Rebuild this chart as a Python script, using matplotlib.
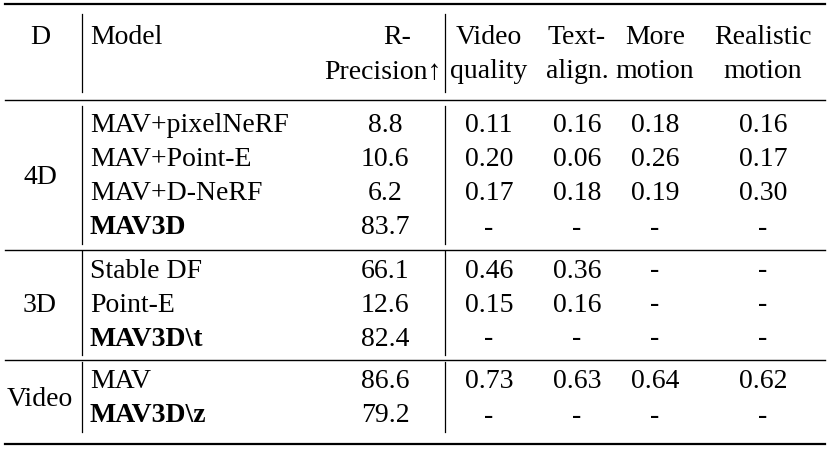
import matplotlib
matplotlib.use("Agg")
import matplotlib.pyplot as plt

plt.rcParams['font.family'] = ['Liberation Serif', 'DejaVu Serif']

groups = ["4D", "3D", "Video"]
models = [["MAV+pixelNeRF", "MAV+Point-E", "MAV+D-NeRF", "MAV3D"],
          ["Stable DF", "Point-E", "MAV3D\\t"],
          ["MAV", "MAV3D\\z"]]
bold_models = {"MAV3D", "MAV3D\\t", "MAV3D\\z"}
rprec = [["8.8", "10.6", "6.2", "83.7"],
         ["66.1", "12.6", "82.4"],
         ["86.6", "79.2"]]
scores = [[["0.11", "0.16", "0.18", "0.16"],
           ["0.20", "0.06", "0.26", "0.17"],
           ["0.17", "0.18", "0.19", "0.30"],
           ["-", "-", "-", "-"]],
          [["0.46", "0.36", "-", "-"],
           ["0.15", "0.16", "-", "-"],
           ["-", "-", "-", "-"]],
          [["0.73", "0.63", "0.64", "0.62"],
           ["-", "-", "-", "-"]]]
head_top = ["R-", "Video", "Text-", "More", "Realistic"]
head_bot = ["Precision\u2191", "quality", "align.", "motion", "motion"]

fig = plt.figure(figsize=(8.29, 4.58), dpi=100)
ax = fig.add_axes([0, 0, 1, 1])
ax.set_xlim(0, 829)
ax.set_ylim(458, 0)
ax.axis('off')

fs = 20
score_x = [489, 577, 655, 763]
rp_x = 385

# header
ax.text(40, 38, "D", ha='center', va='center', fontsize=fs)
ax.text(90, 38, "Model", ha='left', va='center', fontsize=fs)
ax.text(rp_x + 12, 38, head_top[0], ha='center', va='center', fontsize=fs)
ax.text(rp_x - 2, 72, head_bot[0], ha='center', va='center', fontsize=fs)
for x, t, b in zip(score_x, head_top[1:], head_bot[1:]):
    ax.text(x, 38, t, ha='center', va='center', fontsize=fs)
    ax.text(x, 72, b, ha='center', va='center', fontsize=fs)

ax.plot([5, 825], [4, 4], color='black', lw=1.6)
ax.plot([5, 825], [100, 100], color='black', lw=1.0)
ax.plot([82, 82], [14, 92], color='black', lw=0.9)
ax.plot([445, 445], [14, 92], color='black', lw=0.9)

section_start = [126, 271, 382]
step = 34
rule_after = [250, 360, 444]
for g, name in enumerate(groups):
    y0 = section_start[g]
    n = len(models[g])
    ys = [y0 + i * step for i in range(n)]
    ax.text(40, (ys[0] + ys[-1]) / 2, name, ha='center', va='center', fontsize=fs)
    top = y0 - 20
    bot = ys[-1] + 16
    ax.plot([82, 82], [top, bot], color='black', lw=0.9)
    ax.plot([445, 445], [top, bot], color='black', lw=0.9)
    for i, y in enumerate(ys):
        m = models[g][i]
        ax.text(90, y, m, ha='left', va='center', fontsize=fs,
                fontweight='bold' if m in bold_models else 'normal')
        ax.text(rp_x, y, rprec[g][i], ha='center', va='center', fontsize=fs)
        for x, v in zip(score_x, scores[g][i]):
            ax.text(x, y, v, ha='center', va='center', fontsize=fs)
    lw = 1.6 if g == len(groups) - 1 else 1.0
    ax.plot([5, 825], [rule_after[g], rule_after[g]], color='black', lw=lw)

fig.savefig("out.png", dpi=100)
